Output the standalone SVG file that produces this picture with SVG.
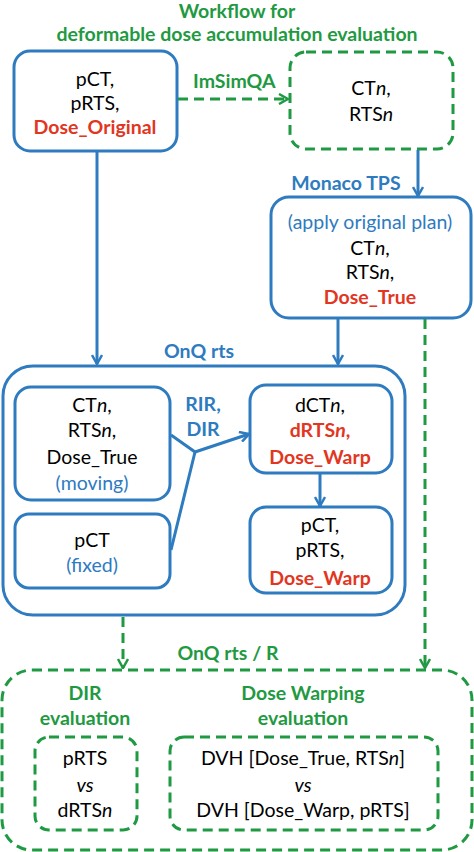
<svg xmlns="http://www.w3.org/2000/svg" width="474" height="852" viewBox="0 0 474 852">
<defs>
<style>
text{font-family:"Lato","Open Sans","Liberation Sans",sans-serif;font-size:19.5px;text-anchor:middle;fill:#000}
.red{fill:#E2361F;font-weight:bold}
.blu{fill:#2E7BBF}
.grn{fill:#1F9A42;font-weight:bold}
.bl{fill:#2E7BBF;font-weight:bold}
.sb{fill:#fff;stroke:#2E7BBF;stroke-width:3}
.dg{fill:#fff;stroke:#1F9A42;stroke-width:3;stroke-dasharray:10 6}
.lb{fill:none;stroke:#2E7BBF;stroke-width:3}
.lg{fill:none;stroke:#1F9A42;stroke-width:3;stroke-dasharray:10 6}
</style>
<marker id="ab" viewBox="0 0 12 12" refX="11" refY="6" markerWidth="12" markerHeight="12" markerUnits="userSpaceOnUse" orient="auto">
<polyline points="2,1 11,6 2,11" fill="none" stroke="#2E7BBF" stroke-width="2.5"/>
</marker>
<marker id="ag" viewBox="0 0 12 12" refX="11" refY="6" markerWidth="12" markerHeight="12" markerUnits="userSpaceOnUse" orient="auto">
<polyline points="2,1 11,6 2,11" fill="none" stroke="#1F9A42" stroke-width="2.5"/>
</marker>
</defs>
<rect width="474" height="852" fill="#fff"/>
<g id="title">
<text class="grn" x="237" y="18">Workflow for</text>
<text class="grn" x="237" y="41">deformable dose accumulation evaluation</text>
</g>
<g id="n-original">
<rect class="sb" x="14" y="51" width="163" height="100" rx="16"/>
<text x="95" y="86">pCT,</text>
<text x="95" y="110">pRTS,</text>
<text class="red" x="95" y="134">Dose_Original</text>
</g>
<g id="n-ctn">
<rect class="dg" x="290" y="52" width="163" height="97" rx="16"/>
<text x="371" y="95">CT<tspan font-style="italic">n</tspan>,</text>
<text x="371" y="121">RTS<tspan font-style="italic">n</tspan></text>
</g>
<g id="n-monaco">
<rect class="sb" x="271" y="197" width="200" height="121" rx="18"/>
<text class="blu" x="370" y="229">(apply original plan)</text>
<text x="370" y="255">CT<tspan font-style="italic">n</tspan>,</text>
<text x="370" y="279">RTS<tspan font-style="italic">n</tspan>,</text>
<text class="red" x="370" y="304">Dose_True</text>
</g>
<g id="n-onq">
<rect class="sb" x="3" y="366" width="402" height="249" rx="30"/>
</g>
<g id="n-moving">
<rect class="sb" x="15" y="387" width="155" height="113" rx="16"/>
<text x="92" y="412">CT<tspan font-style="italic">n</tspan>,</text>
<text x="92" y="437">RTS<tspan font-style="italic">n</tspan>,</text>
<text x="92" y="464">Dose_True</text>
<text class="blu" x="92" y="490">(moving)</text>
</g>
<g id="n-fixed">
<rect class="sb" x="15" y="514" width="155" height="74" rx="14"/>
<text x="92" y="547">pCT</text>
<text class="blu" x="92" y="572">(fixed)</text>
</g>
<g id="n-dctn">
<rect class="sb" x="250" y="385" width="142" height="88" rx="16"/>
<text x="320" y="412">dCT<tspan font-style="italic">n</tspan>,</text>
<text class="red" x="320" y="437">dRTS<tspan font-style="italic">n</tspan>,</text>
<text class="red" x="320" y="464">Dose_Warp</text>
</g>
<g id="n-warp">
<rect class="sb" x="250" y="507" width="142" height="86" rx="16"/>
<text x="320" y="532">pCT,</text>
<text x="320" y="557">pRTS,</text>
<text class="red" x="320" y="585">Dose_Warp</text>
</g>
<g id="n-eval">
<rect class="dg" x="2" y="670" width="470" height="180" rx="30"/>
<text class="grn" x="85" y="700">DIR</text>
<text class="grn" x="85" y="725">evaluation</text>
<text class="grn" x="303" y="700">Dose Warping</text>
<text class="grn" x="303" y="725">evaluation</text>
</g>
<g id="n-dir-eval">
<rect class="dg" x="35" y="737" width="102" height="93" rx="14"/>
<text x="85" y="765">pRTS</text>
<text x="85" y="792" font-style="italic">vs</text>
<text x="85" y="817">dRTS<tspan font-style="italic">n</tspan></text>
</g>
<g id="n-dose-eval">
<rect class="dg" x="170" y="737" width="268" height="93" rx="14"/>
<text x="303" y="765">DVH [Dose_True, RTS<tspan font-style="italic">n</tspan>]</text>
<text x="303" y="792" font-style="italic">vs</text>
<text x="303" y="817">DVH [Dose_Warp, pRTS]</text>
</g>
<g id="connectors">
<line class="lg" x1="178" y1="99" x2="288" y2="99" marker-end="url(#ag)"/>
<line class="lb" x1="97" y1="152" x2="97" y2="364" marker-end="url(#ab)"/>
<line class="lb" x1="418" y1="150" x2="418" y2="196" marker-end="url(#ab)"/>
<line class="lb" x1="338" y1="319" x2="338" y2="364" marker-end="url(#ab)"/>
<line class="lg" x1="425" y1="319" x2="425" y2="668" marker-end="url(#ag)"/>
<line class="lg" x1="123" y1="617" x2="123" y2="668" marker-end="url(#ag)"/>
<polyline class="lb" points="171,435 195,452 171,550"/>
<line class="lb" x1="195" y1="452" x2="249" y2="434" marker-end="url(#ab)"/>
<line class="lb" x1="320" y1="474" x2="320" y2="506" marker-end="url(#ab)"/>
<text class="grn" x="193" y="88" style="text-anchor:start">ImSimQA</text>
<text class="bl" x="346" y="190">Monaco TPS</text>
<text class="bl" x="199" y="358">OnQ rts</text>
<text class="bl" x="203" y="411">RIR,</text>
<text class="bl" x="203" y="436">DIR</text>
<text class="grn" x="228" y="660">OnQ rts / R</text>
</g>
</svg>
